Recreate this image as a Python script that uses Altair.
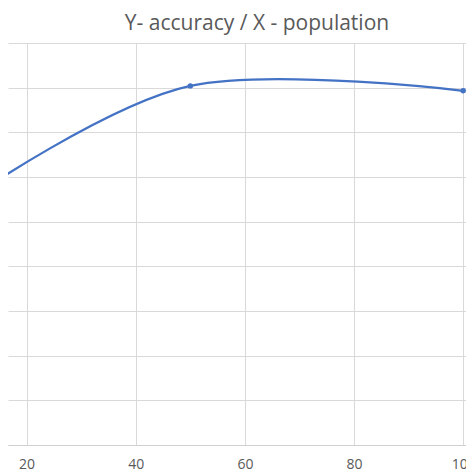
import altair as alt
import pandas as pd

population = [10, 50, 100]
accuracy = [55.5, 80.4, 79.3]
x_ticks = [20, 40, 60, 80, 100]
y_ticks = [0, 10, 20, 30, 40, 50, 60, 70, 80, 90]

df = pd.DataFrame({"population": population, "accuracy": accuracy})

grid = "#d9d9d9"
txt = "#595959"
blue = "#4472C4"

x = alt.X(
    "population:Q",
    scale=alt.Scale(domain=[16.6, 100.5], nice=False, zero=False),
    axis=alt.Axis(values=x_ticks, title=None, ticks=False, domain=True,
                  domainColor="#d0d0d0", gridColor=grid, labelColor=txt,
                  labelFontSize=14, labelFont="Open Sans", labelPadding=12,
                  labelFlush=False),
)
y = alt.Y(
    "accuracy:Q",
    scale=alt.Scale(domain=[0, 90], nice=False, zero=False),
    axis=alt.Axis(values=y_ticks, labels=False, ticks=False, domain=False,
                  title=None, gridColor=grid),
)

line = alt.Chart(df).mark_line(
    interpolate="cardinal", tension=0, color=blue, strokeWidth=2.25, clip=True
).encode(x=x, y=y)
pts = alt.Chart(df).mark_point(
    filled=True, size=30, color=blue, opacity=1, clip=True
).encode(x=x, y=y)

chart = alt.layer(line, pts).properties(
    width=458,
    height=402,
    padding={"left": 0, "top": 35, "right": 0, "bottom": 29},
    autosize=alt.AutoSizeParams(type="none"),
    title=alt.Title("Y- accuracy / X - population", fontSize=21, font="Open Sans",
                    fontWeight="normal", color=txt, offset=9, dx=20),
).configure_view(stroke=None)

chart.save("out.html", embed_options={"renderer": "svg", "actions": False})
